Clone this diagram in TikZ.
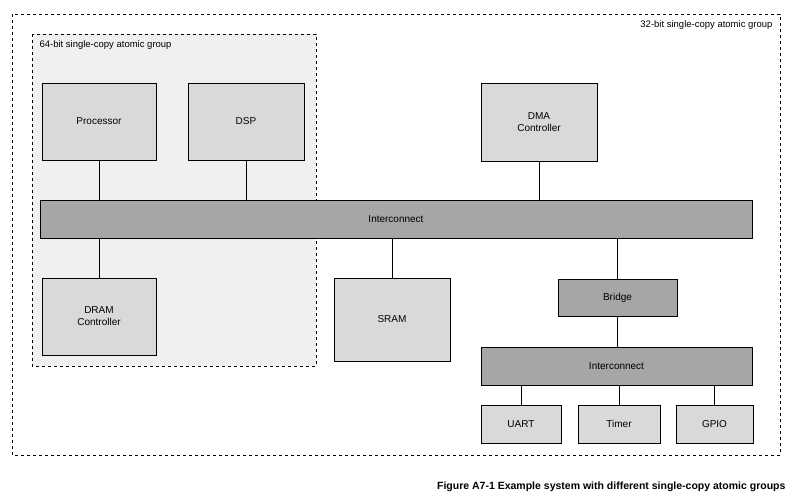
\documentclass[tikz,border=0pt]{standalone}
\usepackage{fontspec}
\setmainfont{Liberation Sans}
\usetikzlibrary{positioning}
\definecolor{blockgray}{HTML}{D9D9D9}
\definecolor{busgray}{HTML}{A6A6A6}
\definecolor{groupgray}{HTML}{F0F0F0}
\tikzset{
  blk/.style={draw, fill=blockgray, align=center, font=\fontsize{10}{12}\selectfont, inner sep=0pt},
  bus/.style={blk, fill=busgray},
  grp/.style={draw, dashed, thick}
}
\begin{document}
\begin{tikzpicture}[x=1pt, y=-1pt]
\useasboundingbox (0,0) rectangle (792,501);
% atomic groups
\draw[grp] (12,14) rectangle (780,455);
\draw[grp, fill=groupgray] (32,34) rectangle (316,366);
\node[anchor=north east, font=\fontsize{9.5}{11}\selectfont] (g32) at (776,17) {32-bit single-copy atomic group};
\node[anchor=north west, font=\fontsize{9.5}{11}\selectfont] (g64) at (36,37) {64-bit single-copy atomic group};
% blocks
\node[blk, minimum width=114pt, minimum height=77pt] (proc) at (99,121.5) {Processor};
\node[blk, minimum width=116pt, minimum height=77pt] (dsp) at (246,121.5) {DSP};
\node[blk, minimum width=116pt, minimum height=78pt] (dma) at (539,122) {DMA\\Controller};
\node[bus, minimum width=712pt, minimum height=38pt] (ic) at (396,219) {Interconnect};
\node[blk, minimum width=114pt, minimum height=77pt] (dram) at (99,316.5) {DRAM\\Controller};
\node[blk, minimum width=116pt, minimum height=83pt] (sram) at (392,319.5) {SRAM};
\node[bus, minimum width=119pt, minimum height=37pt] (bridge) at (617.5,297.5) {Bridge};
\node[bus, minimum width=271pt, minimum height=38pt] (ic2) at (616.5,366) {Interconnect};
\node[blk, minimum width=80pt, minimum height=38pt] (uart) at (521,424) {UART};
\node[blk, minimum width=82pt, minimum height=38pt] (timer) at (619,424) {Timer};
\node[blk, minimum width=77pt, minimum height=38pt] (gpio) at (714.5,424) {GPIO};
% links
\draw (proc) -- (proc |- ic.north);
\draw (dsp) -- (dsp |- ic.north);
\draw (dma) -- (dma |- ic.north);
\draw (dram) -- (dram |- ic.south);
\draw (sram) -- (sram |- ic.south);
\draw (bridge) -- (bridge |- ic.south);
\draw (bridge) -- (bridge |- ic2.north);
\foreach \n in {uart, timer, gpio}
  \draw (\n) -- (\n |- ic2.south);
\node[anchor=east, font=\bfseries\fontsize{10.5}{12}\selectfont] (cap) at (789,487) {Figure A7-1 Example system with different single-copy atomic groups};
\end{tikzpicture}
\end{document}
